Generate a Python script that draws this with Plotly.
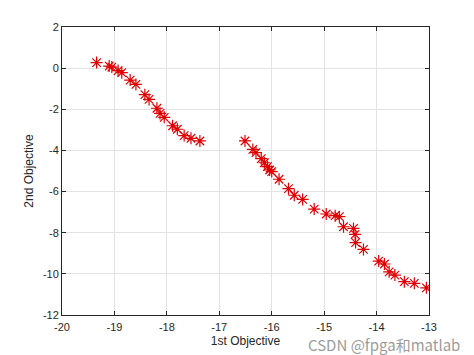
import plotly.graph_objects as go

obj1 = [-19.34, -19.10, -19.05, -18.93, -18.86, -18.70, -18.59, -18.42, -18.34, -18.19, -18.13, -18.05,
        -17.89, -17.80, -17.67, -17.54, -17.37,
        -16.51, -16.36, -16.30, -16.20, -16.14, -16.08, -16.04, -16.00, -15.86, -15.68, -15.57, -15.41,
        -15.19, -14.96, -14.79, -14.71, -14.63, -14.44, -14.41, -14.40, -14.25, -13.96, -13.85, -13.76,
        -13.65, -13.47, -13.28, -13.05]
obj2 = [0.27, 0.10, 0.05, -0.12, -0.22, -0.58, -0.79, -1.29, -1.52, -1.95, -2.20, -2.39,
        -2.80, -2.97, -3.28, -3.41, -3.54,
        -3.54, -3.95, -4.11, -4.40, -4.60, -4.79, -4.95, -5.03, -5.40, -5.86, -6.18, -6.38,
        -6.85, -7.09, -7.17, -7.22, -7.71, -7.79, -8.08, -8.48, -8.81, -9.38, -9.52, -9.90,
        -10.06, -10.38, -10.46, -10.68]

x_ticks = [-20, -19, -18, -17, -16, -15, -14, -13]
y_ticks = [-12, -10, -8, -6, -4, -2, 0, 2]

fig = go.Figure()
fig.add_trace(go.Scatter(
    x=obj1, y=obj2, mode="markers",
    marker=dict(symbol="asterisk-open", size=10, color="#e00000",
                line=dict(color="#e00000", width=1.2)),
    showlegend=False,
))

axis_common = dict(
    showline=True, linecolor="#262626", linewidth=1, mirror="ticks",
    ticks="inside", ticklen=4, tickcolor="#262626",
    showgrid=True, gridcolor="#e3e3e3", gridwidth=1, zeroline=False,
    automargin=False,
    tickfont=dict(family="Liberation Sans", size=11, color="#262626"),
)

fig.update_layout(
    width=474, height=355,
    margin=dict(l=62, r=45, t=27, b=40),
    paper_bgcolor="white", plot_bgcolor="white",
    xaxis=dict(range=[-20, -13], tickvals=x_ticks, ticktext=[str(v) for v in x_ticks],
               ticklabelstandoff=2,
               title=dict(text="1st Objective", standoff=4,
                          font=dict(family="Liberation Sans", size=12, color="#262626")),
               **axis_common),
    yaxis=dict(range=[-12, 2], tickvals=y_ticks, ticktext=[str(v) for v in y_ticks],
               title=dict(text="2nd Objective", standoff=6,
                          font=dict(family="Liberation Sans", size=12, color="#262626")),
               **axis_common),
    annotations=[dict(text="CSDN @fpga和matlab", xref="paper", yref="paper",
                      x=1.09, y=-0.102, xanchor="right", yanchor="middle", showarrow=False,
                      font=dict(family="Noto Sans CJK SC", size=15, color="rgba(120,120,120,0.75)"))],
)

fig.write_html("out.html")
